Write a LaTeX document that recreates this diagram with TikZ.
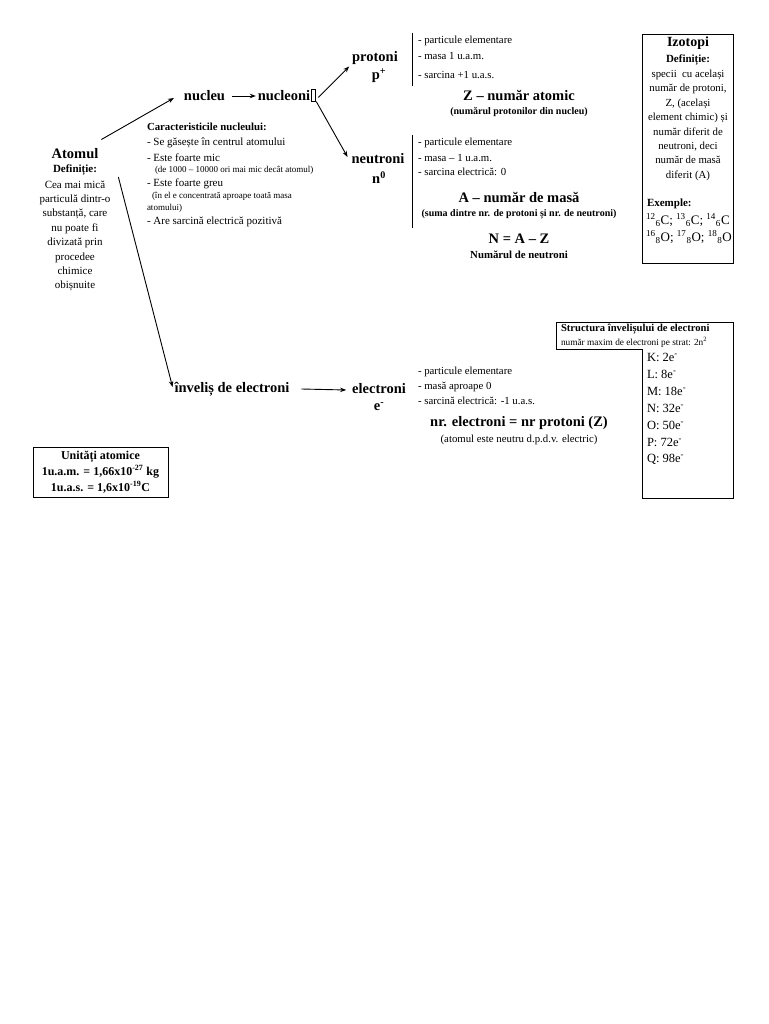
\documentclass[tikz,border=0pt]{standalone}
\usepackage{fontspec}
\setmainfont{Liberation Serif}
\usetikzlibrary{arrows.meta}
\newcommand\isoty[2]{\textsuperscript{#1}\textsubscript{#2}}
\begin{document}
\begin{tikzpicture}[x=1pt,y=-1pt,
  every node/.style={inner sep=0pt, outer sep=0pt},
  big/.style={font=\bfseries\fontsize{14.5}{16}\selectfont},
  formula/.style={font=\bfseries\fontsize{14.5}{16}\selectfont},
  note/.style={font=\bfseries\fontsize{10}{12}\selectfont},
  bnote/.style={font=\bfseries\fontsize{10.8}{12}\selectfont},
  smallc/.style={font=\fontsize{10.8}{12}\selectfont},
  small/.style={font=\fontsize{10.8}{12}\selectfont, anchor=west},
  char/.style={font=\fontsize{11}{13}\selectfont, anchor=west},
  tiny/.style={font=\fontsize{9}{11}\selectfont, anchor=west},
  defb/.style={font=\bfseries\fontsize{11}{13}\selectfont},
  shell/.style={font=\fontsize{12.5}{14}\selectfont, anchor=west},
  conn/.style={-{Stealth[length=6pt,width=4.5pt]}, line width=0.9pt},
  vline/.style={line width=0.7pt},
  boxline/.style={line width=0.8pt}]
\useasboundingbox[fill=white] (0,0) rectangle (768,1024);

% Atomul
\node[big] (atomul) at (75,153.5) {Atomul};
\node[defb] (defa) at (75,170) {Definiție:};
\node[align=center, font=\fontsize{11}{14.4}\selectfont, anchor=north] (defatext) at (75,180.5)
  {Cea mai mică\\particulă dintr-o\\substanță, care\\nu poate fi\\divizată prin\\procedee\\chimice\\obișnuite};

% nucleus branch
\node[big] (nucleu) at (204.5,96) {nucleu};
\node[big] (nucleoni) at (284,96) {nucleoni};
\node[draw, line width=0.5pt, minimum width=3.5pt, minimum height=12pt] (nbox) at (313,95.5) {};
\node[big] (protoni) at (375,58.5) {protoni};
\node[big] (pplus) at (379,75.5) {p\textsuperscript{+}};
\node[big] (neutroni) at (378,159) {neutroni};
\node[big] (nzero) at (379,178) {n\textsuperscript{0}};

% characteristics
\node[font=\bfseries\fontsize{10.8}{12}\selectfont, anchor=west] (car0) at (147,127) {Caracteristicile nucleului:};
\node[char] (car1) at (147,142.5) {- Se găsește în centrul atomului};
\node[char] (car2) at (147,157.5) {- Este foarte mic};
\node[tiny] (car3) at (155,170.5) {(de 1000 – 10000 ori mai mic decât atomul)};
\node[char] (car4) at (147,183.5) {- Este foarte greu};
\node[tiny] (car5) at (152,196.5) {(în el e concentrată aproape toată masa};
\node[tiny] (car6) at (147,208.5) {atomului)};
\node[char] (car7) at (147,221.5) {- Are sarcină electrică pozitivă};

% proton list
\draw[vline] (412,33) -- (412,86);
\node[small] (p1) at (418,41) {- particule elementare};
\node[small] (p2) at (418,56) {- masa 1 u.a.m.};
\node[small] (p3) at (418,75) {- sarcina +1 u.a.s.};
\node[formula] (zatom) at (519,95) {Z – număr atomic};
\node[note] (zdesc) at (519,112.5) {(numărul protonilor din nucleu)};

% neutron list
\draw[vline] (412,135) -- (412,228);
\node[small] (n1) at (418,143) {- particule elementare};
\node[small] (n2) at (418,158) {- masa – 1 u.a.m.};
\node[small] (n3) at (418,172) {- sarcina electrică: 0};
\node[formula] (amasa) at (519,197) {A – număr de masă};
\node[note] (adesc) at (519,214.5) {(suma dintre nr. de protoni și nr. de neutroni)};
\node[formula] (nform) at (519,239) {N = A – Z};
\node[bnote] (ndesc) at (519,255) {Numărul de neutroni};

% electron branch
\node[big] (invelis) at (232,389) {înveliș de electroni};
\node[big] (electroni) at (379,388.5) {electroni};
\node[big] (eminus) at (379,407) {e\textsuperscript{-}};
\node[small] (e1) at (418,372) {- particule elementare};
\node[small] (e2) at (418,387) {- masă aproape 0};
\node[small] (e3) at (418,401) {- sarcină electrică: -1 u.a.s.};
\node[formula] (eform) at (519,423) {nr. electroni = nr protoni (Z)};
\node[smallc] (edesc) at (519,439.5) {(atomul este neutru d.p.d.v. electric)};

% Izotopi
\node[draw, boxline, minimum width=91pt, minimum height=229pt, anchor=north west] (izobox) at (642,34) {};
\node[font=\bfseries\fontsize{14}{16}\selectfont] (izo) at (688,43) {Izotopi};
\node[defb] (izodef) at (688,60) {Definiție:};
\node[align=center, font=\fontsize{10.8}{14.4}\selectfont, anchor=north] (izotext) at (688,70)
  {specii\ \ cu același\\număr de protoni,\\Z, (același\\element chimic) și\\număr diferit de\\neutroni, deci\\număr de masă\\diferit (A)};
\node[defb, anchor=west] (exm) at (647,204) {Exemple:};
\node[anchor=west, font=\fontsize{13}{15}\selectfont] (ex1) at (646,220) {\isoty{12}{6}C; \isoty{13}{6}C; \isoty{14}{6}C};
\node[anchor=west, font=\fontsize{13}{15}\selectfont] (ex2) at (646,237) {\isoty{16}{8}O; \isoty{17}{8}O; \isoty{18}{8}O};

% Structura
\draw[boxline] (556,322) -- (733,322) -- (733,498) -- (642,498) -- (642,349) -- (556,349) -- cycle;
\node[font=\bfseries\fontsize{10.6}{12}\selectfont, anchor=west] (strt) at (561,329.5) {Structura învelișului de electroni};
\node[font=\fontsize{9.3}{11}\selectfont, anchor=west] (strs) at (561,342) {număr maxim de electroni pe strat: 2n\textsuperscript{2}};
\node[shell] (sK) at (647,357) {K: 2e\textsuperscript{-}};
\node[shell] (sL) at (647,374) {L: 8e\textsuperscript{-}};
\node[shell] (sM) at (647,391) {M: 18e\textsuperscript{-}};
\node[shell] (sN) at (647,408) {N: 32e\textsuperscript{-}};
\node[shell] (sO) at (647,425) {O: 50e\textsuperscript{-}};
\node[shell] (sP) at (647,442) {P: 72e\textsuperscript{-}};
\node[shell] (sQ) at (647,459) {Q: 98e\textsuperscript{-}};

% Unitati
\node[draw, boxline, align=center, minimum width=135pt, minimum height=50pt,
  font=\bfseries\fontsize{12}{16}\selectfont] (unit) at (100.5,472)
  {Unități atomice\\1u.a.m. = 1,66x10\textsuperscript{-27} kg\\1u.a.s. = 1,6x10\textsuperscript{-19}C};

% connectors
\draw[conn] ([shift={(3,-14)}]atomul.east) -- ([shift={(-10,2)}]nucleu.west);
\draw[conn] ([shift={(20,23.5)}]atomul.east) -- ([shift={(-2,-2)}]invelis.west);
\draw[conn] ([xshift=7]nucleu.east) -- ([xshift=-2]nucleoni.west);
\draw[conn] ([shift={(3.5,2)}]nbox.east) -- ([shift={(-3,8)}]protoni.west);
\draw[conn] ([shift={(1.5,0)}]nbox.south east) -- ([shift={(-4,-2)}]neutroni.west);
\draw[conn] ([shift={(12,0)}]invelis.east) -- ([shift={(-6,1.5)}]electroni.west);
\end{tikzpicture}
\end{document}
